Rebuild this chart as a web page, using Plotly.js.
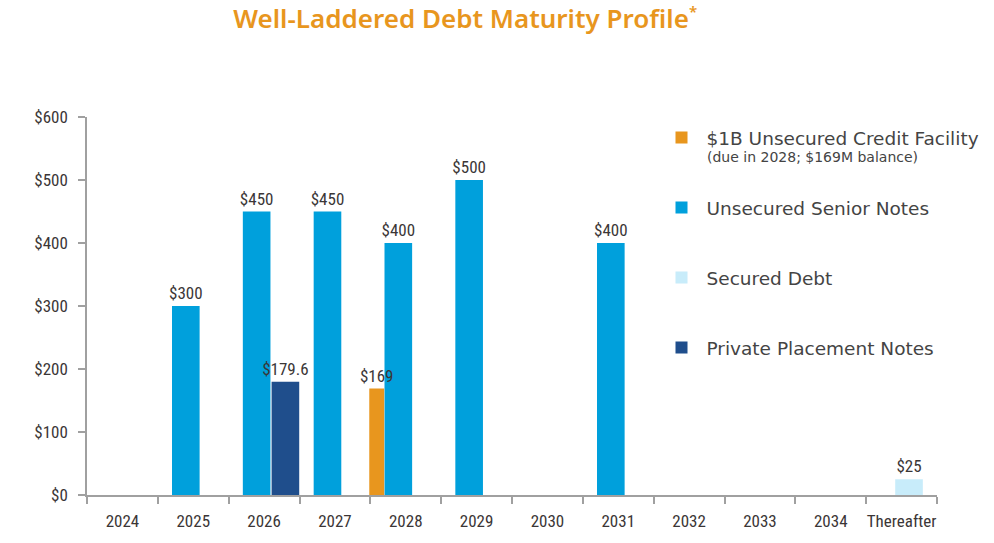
<!DOCTYPE html>
<html>
<head>
<meta charset="utf-8">
<script src="https://cdn.plot.ly/plotly-3.0.1.min.js"></script>
<style>html,body{margin:0;padding:0;background:#fff}#chart{width:994px;height:543px}</style>
</head>
<body>
<div id="chart"></div>
<script>
// Categories (x axis)
const years = ['2024','2025','2026','2027','2028','2029','2030','2031','2032','2033','2034','Thereafter'];

// Series
const creditFacilityX = ['2028'];
const creditFacilityY = [169];

const seniorNotesX = ['2025','2026','2027','2028','2029','2031'];
const seniorNotesY = [300, 450, 450, 400, 500, 400];

const securedDebtX = ['Thereafter'];
const securedDebtY = [25];

const privatePlacementX = ['2026'];
const privatePlacementY = [179.6];

const seriesNames = [
  '$1B Unsecured Credit Facility',
  'Unsecured Senior Notes',
  'Secured Debt',
  'Private Placement Notes'
];
const legendNote = '(due in 2028; $169M balance)';

const yTicks = [0, 100, 200, 300, 400, 500, 600];

const narrow = '"Liberation Sans Narrow", "Roboto Condensed", "DejaVu Sans Condensed", sans-serif';
const labelFont = {family: narrow, size: 17, color: '#3b3636', weight: 'normal'};
const legendFamily = '"DejaVu Sans", sans-serif';

function barTrace(name, x, y, color, offset, width, group, rank) {
  return {
    type: 'bar', name: name, x: x, y: y,
    marker: {color: color},
    offset: offset, width: width,
    text: y.map(v => '$' + v),
    texttemplate: '%{text}',
    textposition: 'outside',
    constraintext: 'none',
    textfont: labelFont,
    cliponaxis: false,
    legendgroup: group,
    legendrank: rank,
    hoverinfo: 'x+y'
  };
}

// Credit facility drawn last so its value label stays on top of the neighbouring bar
const data = [
  barTrace(seriesNames[1], seniorNotesX, seniorNotesY, '#00A0DC', -0.30, 0.39, 'b', 2),
  barTrace(seriesNames[2], securedDebtX, securedDebtY, '#C8ECFA', -0.09, 0.39, 'c', 3),
  barTrace(seriesNames[3], privatePlacementX, privatePlacementY, '#1F4E8C', 0.106, 0.39, 'd', 4),
  barTrace(seriesNames[0], creditFacilityX, creditFacilityY, '#E8961E', -0.515, 0.21, 'a', 1)
];

const PW = 907; // paper-region width (994 - left margin)

const layout = {
  width: 994, height: 543,
  margin: {l: 87, r: 0, t: 117, b: 48},
  paper_bgcolor: '#fff', plot_bgcolor: '#fff',
  barmode: 'overlay',
  showlegend: true,
  title: {
    text: 'Well-Laddered Debt Maturity Profile<sup><span style="font-size:15px">*</span></sup>',
    font: {family: '"Noto Sans", sans-serif', size: 26, color: '#E8961E', weight: 600},
    x: 0.468, xref: 'container', xanchor: 'center',
    y: 0.966, yref: 'container', yanchor: 'middle'
  },
  xaxis: {
    type: 'category',
    domain: [0, 850 / PW],
    categoryorder: 'array', categoryarray: years,
    range: [-0.5, years.length - 0.5],
    tickson: 'boundaries',
    tickangle: 0,
    ticks: 'outside', ticklen: 7, tickcolor: '#a0a0a0', tickwidth: 1.5,
    showline: true, linecolor: '#a0a0a0', linewidth: 1.5,
    showgrid: false, zeroline: false,
    tickfont: labelFont,
    ticklabelstandoff: 10,
    fixedrange: true
  },
  yaxis: {
    range: [0, 600],
    tickvals: yTicks,
    ticktext: yTicks.map(v => '$' + v),
    ticks: 'outside', ticklen: 7, tickcolor: '#a0a0a0', tickwidth: 1.5,
    showline: true, linecolor: '#a0a0a0', linewidth: 1.5,
    showgrid: false, zeroline: false,
    tickfont: labelFont,
    ticklabelstandoff: 7,
    fixedrange: true
  },
  legend: {
    x: 569.5 / PW, xanchor: 'left', xref: 'paper',
    y: 0.995, yanchor: 'top', yref: 'paper',
    font: {family: legendFamily, size: 18.5, color: '#444'},
    bgcolor: 'rgba(0,0,0,0)',
    itemwidth: 40,
    tracegroupgap: 43,
    traceorder: 'grouped',
    itemclick: false, itemdoubleclick: false
  },
  annotations: [{
    text: legendNote,
    xref: 'paper', yref: 'paper',
    x: 617.5 / PW, y: 0.893, xanchor: 'left', yanchor: 'middle',
    showarrow: false,
    font: {family: legendFamily, size: 14, color: '#444'}
  }]
};

Plotly.newPlot('chart', data, layout, {displayModeBar: false});
</script>
</body>
</html>
